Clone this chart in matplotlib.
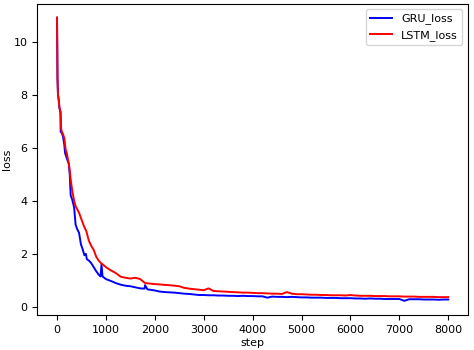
import matplotlib
matplotlib.use("Agg")
import matplotlib.pyplot as plt

# loss values
gru_steps = [0, 5, 10, 20, 35, 50, 70, 75, 100, 125, 150, 165, 200, 240, 260, 280, 310,
             350, 380, 420, 450, 490, 520, 560, 590, 610, 650, 700, 750, 800, 850, 890,
             910, 930, 1000, 1100, 1200, 1300, 1400, 1500, 1600, 1700, 1790, 1800, 1850,
             1900, 2000, 2100, 2200, 2300, 2400, 2500, 2600, 2700, 2800, 2900, 3000,
             3100, 3200, 3300, 3400, 3500, 3600, 3700, 3800, 3900, 4000, 4100, 4200,
             4300, 4400, 4500, 4600, 4700, 4800, 4900, 5000, 5100, 5200, 5300, 5400,
             5500, 5600, 5700, 5800, 5900, 6000, 6100, 6200, 6300, 6400, 6500, 6600,
             6700, 6800, 6900, 7000, 7100, 7200, 7300, 7400, 7500, 7600, 7700, 7800,
             7900, 8000]
gru_loss = [10.9, 9.8, 8.6, 8.0, 7.8, 7.5, 7.3, 6.6, 6.55, 6.4, 6.1, 5.8, 5.6, 5.4, 5.0,
            4.2, 4.05, 3.75, 3.1, 2.9, 2.8, 2.35, 2.2, 1.95, 2.0, 1.8, 1.75, 1.65, 1.5,
            1.35, 1.22, 1.15, 1.6, 1.15, 1.05, 0.98, 0.9, 0.84, 0.8, 0.78, 0.74, 0.7,
            0.69, 0.82, 0.66, 0.65, 0.62, 0.58, 0.56, 0.55, 0.54, 0.52, 0.5, 0.49, 0.47,
            0.45, 0.45, 0.44, 0.44, 0.43, 0.43, 0.42, 0.42, 0.41, 0.42, 0.41, 0.41, 0.4,
            0.4, 0.35, 0.39, 0.38, 0.38, 0.37, 0.38, 0.37, 0.36, 0.36, 0.35, 0.35, 0.35,
            0.34, 0.34, 0.34, 0.33, 0.33, 0.33, 0.32, 0.32, 0.31, 0.32, 0.31, 0.31, 0.3,
            0.3, 0.3, 0.3, 0.23, 0.29, 0.29, 0.29, 0.28, 0.28, 0.28, 0.27, 0.28, 0.28]

lstm_steps = [0, 5, 10, 20, 35, 50, 75, 85, 100, 125, 150, 175, 200, 250, 280, 310, 350,
              380, 450, 500, 550, 600, 650, 700, 750, 800, 850, 900, 950, 1000, 1100,
              1200, 1300, 1400, 1500, 1600, 1700, 1800, 1900, 2000, 2100, 2200, 2300,
              2400, 2500, 2600, 2700, 2800, 2900, 3000, 3100, 3200, 3300, 3400, 3500,
              3600, 3700, 3800, 3900, 4000, 4100, 4200, 4300, 4400, 4500, 4600, 4700,
              4800, 4900, 5000, 5100, 5200, 5300, 5400, 5500, 5600, 5700, 5800, 5900,
              6000, 6100, 6200, 6300, 6400, 6500, 6600, 6700, 6800, 6900, 7000, 7100,
              7200, 7300, 7400, 7500, 7600, 7700, 7800, 7900, 8000]
lstm_loss = [10.9, 9.8, 8.6, 8.0, 7.8, 7.5, 7.35, 6.7, 6.6, 6.5, 6.35, 5.95, 5.8, 5.3,
             4.8, 4.4, 4.0, 3.8, 3.55, 3.3, 3.05, 2.85, 2.5, 2.3, 2.15, 1.9, 1.75, 1.65,
             1.58, 1.5, 1.38, 1.28, 1.14, 1.1, 1.07, 1.1, 1.05, 0.9, 0.88, 0.86, 0.85,
             0.83, 0.82, 0.8, 0.78, 0.72, 0.69, 0.67, 0.65, 0.63, 0.7, 0.6, 0.59, 0.58,
             0.57, 0.56, 0.55, 0.54, 0.54, 0.53, 0.52, 0.52, 0.51, 0.5, 0.5, 0.49, 0.56,
             0.5, 0.48, 0.48, 0.47, 0.46, 0.46, 0.45, 0.45, 0.44, 0.44, 0.44, 0.43, 0.45,
             0.43, 0.42, 0.42, 0.42, 0.41, 0.41, 0.41, 0.4, 0.4, 0.4, 0.39, 0.39, 0.39,
             0.38, 0.38, 0.38, 0.38, 0.37, 0.37, 0.37]

plt.rcParams['font.size'] = 8

fig, ax = plt.subplots(figsize=(4.74, 3.5), dpi=100)
fig.subplots_adjust(left=0.079, right=0.987, top=0.99, bottom=0.1)

ax.plot(gru_steps, gru_loss, color='blue', linewidth=1.4, label='GRU_loss')
ax.plot(lstm_steps, lstm_loss, color='red', linewidth=1.4, label='LSTM_loss')

ax.set_xlabel('step', labelpad=2)
ax.set_ylabel('loss', labelpad=1)
ax.set_xticks(range(0, 8001, 1000))
ax.set_yticks(range(0, 11, 2))
ax.legend(loc='upper right')

fig.savefig('out.png')
